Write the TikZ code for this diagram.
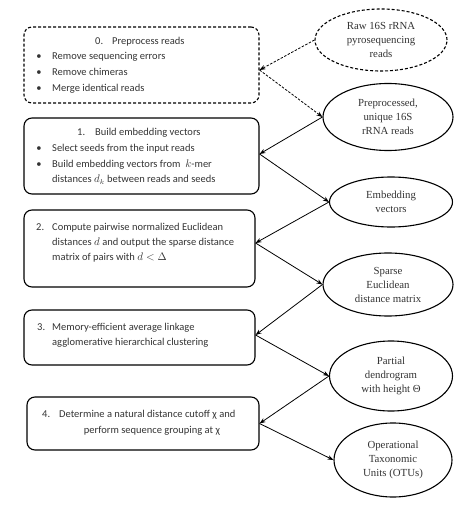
\documentclass[tikz,border=0pt]{standalone}
\usepackage{fontspec}
\setmainfont{Carlito}
\newfontfamily\seriffont{Liberation Serif}
\usetikzlibrary{arrows.meta,shapes.geometric}
\begin{document}
\begin{tikzpicture}[x=1pt,y=-1pt,
  stepbox/.style={draw, line width=1.1pt, rounded corners=8pt, inner sep=0pt},
  dbox/.style={stepbox, dash pattern=on 3pt off 2pt},
  oval/.style={draw, ellipse, line width=1.1pt, inner sep=0pt, align=center,
    font=\seriffont\fontsize{10.8}{14}\selectfont, text=black!80},
  doval/.style={oval, dash pattern=on 3pt off 2pt},
  txt/.style={anchor=west, inner sep=0pt, text height=7.5pt, text depth=2.5pt,
    font=\fontsize{10.5}{13}\selectfont, text=black!80},
  ctxt/.style={txt, anchor=center},
  bul/.style={anchor=center, inner sep=0pt, font=\fontsize{10.5}{13}\selectfont, text=black!80},
  arr/.style={-{Stealth[length=6pt,width=4.5pt]}, line width=0.8pt},
  darr/.style={arr, dash pattern=on 2.5pt off 1.5pt}
]
\useasboundingbox (0,0) rectangle (474,527);

% boxes
\node[dbox, minimum width=235pt, minimum height=76pt] (b0) at (141.5,65) {};
\node[stepbox, minimum width=235pt, minimum height=76pt] (b1) at (141.5,156) {};
\node[stepbox, minimum width=231pt, minimum height=77pt] (b2) at (139.5,248.5) {};
\node[stepbox, minimum width=231pt, minimum height=55pt] (b3) at (139.5,337.5) {};
\node[stepbox, minimum width=232pt, minimum height=53pt] (b4) at (143,423.5) {};

% box texts
\node[txt] (t0) at (95,42) {\makebox[17pt][l]{0.}Preprocess reads};
\node[bul] (u0a) at (39,57) {•};
\node[txt] (t0a) at (52,57) {Remove sequencing errors};
\node[bul] (u0b) at (39,73) {•};
\node[txt] (t0b) at (52,73) {Remove chimeras};
\node[bul] (u0c) at (39,89) {•};
\node[txt] (t0c) at (52,89) {Merge identical reads};

\node[txt] (t1) at (77,133) {\makebox[18pt][l]{1.}Build embedding vectors};
\node[bul] (u1a) at (39,149) {•};
\node[txt] (t1a) at (52,149) {Select seeds from the input reads};
\node[bul] (u1b) at (39,165) {•};
\node[txt] (t1b) at (52,165) {Build embedding vectors from \ $k$-mer};
\node[txt] (t1c) at (52,180) {distances $d_k$ between reads and seeds};

\node[txt] (n2) at (36,228) {2.};
\node[txt] (t2a) at (52,228) {Compute pairwise normalized Euclidean};
\node[txt] (t2b) at (52,243) {distances $d$ and output the sparse distance};
\node[txt] (t2c) at (52,258) {matrix of pairs with $d<\Delta$};

\node[txt] (n3) at (37,328) {3.};
\node[txt] (t3a) at (52,328) {Memory-efficient average linkage};
\node[txt] (t3b) at (52,343) {agglomerative hierarchical clustering};

\node[txt] (n4) at (42,415) {4.};
\node[txt] (t4a) at (59,415) {Determine a natural distance cutoff χ and};
\node[ctxt] (t4b) at (152,431) {perform sequence grouping at χ};

% ellipses
\node[doval, minimum width=132pt, minimum height=62pt] (raw) at (381,40)
  {Raw 16S rRNA\\pyrosequencing\\reads};
\node[oval, minimum width=130pt, minimum height=67pt] (pre) at (388,117)
  {Preprocessed,\\unique 16S\\rRNA reads};
\node[oval, minimum width=123pt, minimum height=50pt] (emb) at (391,202)
  {Embedding\\vectors};
\node[oval, minimum width=130pt, minimum height=63pt] (sp) at (388,284.5)
  {Sparse\\Euclidean\\distance matrix};
\node[oval, minimum width=123pt, minimum height=70pt] (par) at (391,376)
  {Partial\\dendrogram\\with height Θ};
\node[oval, minimum width=118pt, minimum height=74pt] (otu) at (393,460)
  {Operational\\Taxonomic\\Units (OTUs)};

% junction points on the boxes
\coordinate (p0) at ([yshift=-5pt]b0.east);
\coordinate (p1) at ([yshift=2pt]b1.east);
\coordinate (p2) at ([yshift=5.5pt]b2.east);
\coordinate (p3) at ([yshift=2.5pt]b3.east);
\coordinate (p4) at (b4.east);

% connectors
\draw[darr] (raw.west) -- (p0);
\draw[darr] (p0) -- (pre.west);
\draw[arr] (pre.west) -- (p1);
\draw[arr] (p1) -- (emb.west);
\draw[arr] (emb.west) -- (p2);
\draw[arr] (p2) -- (sp.west);
\draw[arr] (sp.west) -- (p3);
\draw[arr] (p3) -- (par.west);
\draw[arr] (par.west) -- (p4);
\draw[arr] (p4) -- (otu.west);
\end{tikzpicture}
\end{document}
